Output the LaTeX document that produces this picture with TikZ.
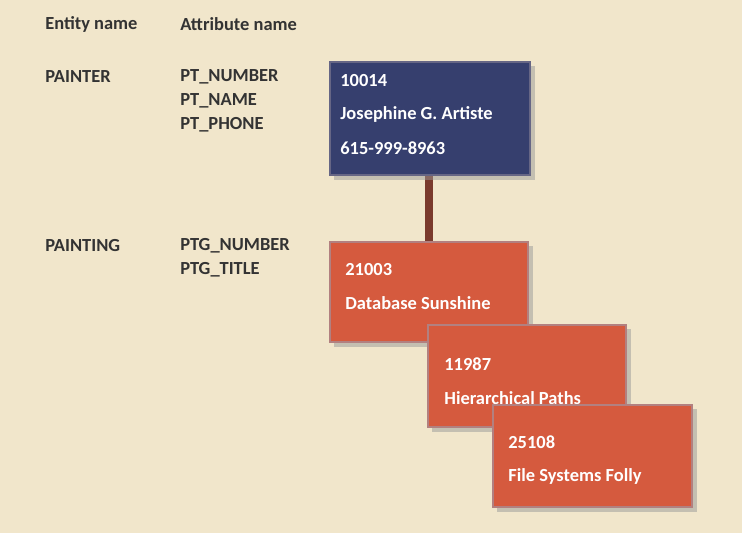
\documentclass[tikz,border=0pt]{standalone}
\usepackage{fontspec}
\setmainfont{Carlito}
\begin{document}
\begin{tikzpicture}[x=0.02cm,y=-0.02cm,
  lbl/.style={anchor=west,inner sep=0pt,font=\bfseries\fontsize{10.5}{12}\selectfont,text=black!80},
  wt/.style={anchor=west,inner sep=0pt,font=\bfseries\fontsize{10.5}{12}\selectfont,text=white},
  navybox/.style={draw=blue!20!black!60,line width=1pt,fill=navy},
  redbox/.style={draw=red!40!black!50,line width=1pt,fill=redf}]
\definecolor{bg}{HTML}{F1E6CB}
\definecolor{navy}{HTML}{363F6E}
\definecolor{redf}{HTML}{D55A3E}
\definecolor{brn}{HTML}{7A3A2C}
\useasboundingbox (0,0) rectangle (742,532);
\fill[bg] (-5,-5) rectangle (747,540);
\node[lbl] (en) at (45,24) {Entity name};
\node[lbl] (an) at (180,24) {Attribute name};
\node[lbl] (p1) at (45,77) {PAINTER};
\node[lbl] (a1) at (180,77) {PT\_NUMBER};
\node[lbl] (a2) at (180,101) {PT\_NAME};
\node[lbl] (a3) at (180,125) {PT\_PHONE};
\node[lbl] (p2) at (45,246) {PAINTING};
\node[lbl] (b1) at (180,246) {PTG\_NUMBER};
\node[lbl] (b2) at (180,270) {PTG\_TITLE};
\coordinate (ct) at (429,175);
\coordinate (cb) at (429,243);
\draw[brn,line width=4.5pt] (ct) -- (cb);
\fill[black!40,opacity=0.5] (334,66) rectangle (535,180);
\draw[navybox] (330,62) rectangle (530,175);
\node[wt] at (340,81) {10014};
\node[wt] at (340,114) {Josephine G. Artiste};
\node[wt] at (340,148) {615-999-8963};
\fill[black!40,opacity=0.5] (334,246) rectangle (533,347);
\draw[redbox] (330,242) rectangle (528,342);
\node[wt] at (345,270) {21003};
\node[wt] at (345,303) {Database Sunshine};
\fill[black!40,opacity=0.5] (432,329) rectangle (631,432);
\draw[redbox] (428,325) rectangle (626,427);
\node[wt] at (444,364) {11987};
\node[wt] at (444,398) {Hierarchical Paths};
\fill[black!40,opacity=0.5] (497,409) rectangle (697,512);
\draw[redbox] (493,405) rectangle (692,507);
\node[wt] at (508,442) {25108};
\node[wt] at (508,476) {File Systems Folly};
\end{tikzpicture}
\end{document}
